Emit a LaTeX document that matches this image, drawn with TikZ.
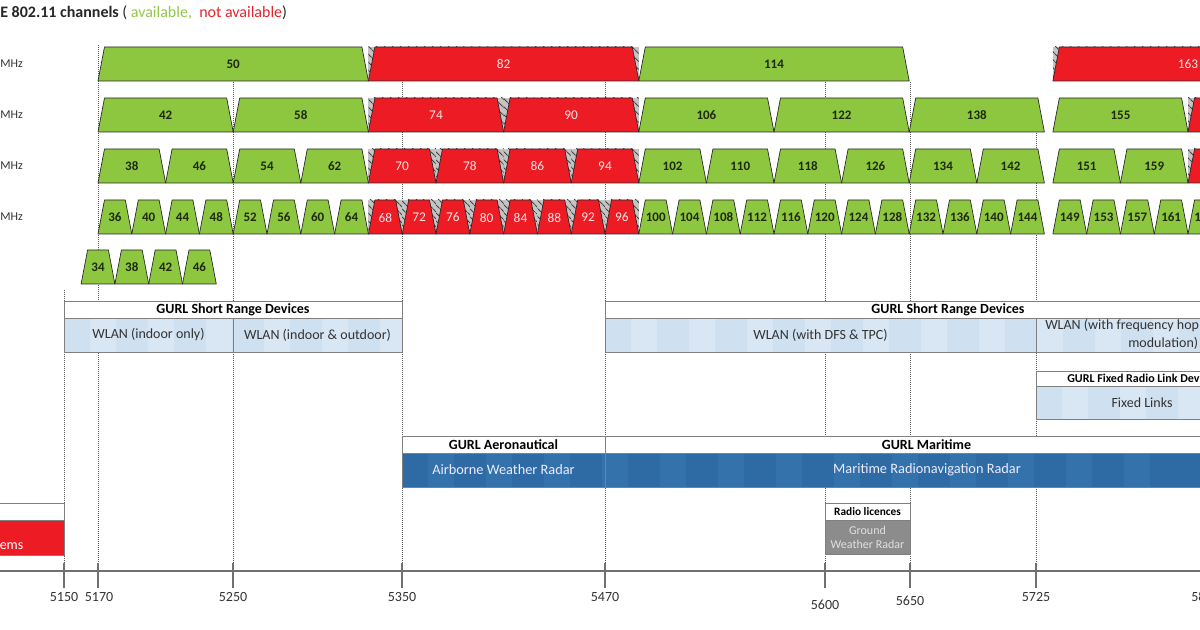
\documentclass[tikz,border=0pt]{standalone}
\usepackage{fontspec}
\setmainfont{Carlito}
\usetikzlibrary{patterns.meta}
\definecolor{chgreen}{HTML}{8DC63F}
\definecolor{chred}{HTML}{ED1C24}
\definecolor{gtext}{HTML}{1F2A10}
\definecolor{rtext}{HTML}{FCE4E4}
\definecolor{hatchbg}{HTML}{C4C4C4}
\definecolor{hatchln}{HTML}{454545}
\definecolor{boxline}{HTML}{808080}
\definecolor{lbA}{HTML}{CFE0F0}
\definecolor{lbB}{HTML}{D9E6F3}
\definecolor{dbA}{HTML}{2E6BA4}
\definecolor{dbB}{HTML}{3472AB}
\definecolor{radgray}{HTML}{8C8C8C}
\definecolor{availg}{HTML}{92C84A}
\definecolor{navr}{HTML}{E0262E}
\definecolor{axcol}{HTML}{707070}
\definecolor{txtdark}{HTML}{333333}

\tikzset{
  greench/.style={fill=chgreen, draw=black!85, line width=0.5pt, line join=round},
  redch/.style={fill=chred, draw=black!85, line width=0.5pt, line join=round},
  hatchbox/.style={fill=hatchbg, postaction={pattern={Lines[angle=-45,distance=4pt,line width=0.9pt]}, pattern color=hatchln}},
  glbl/.style={inner sep=0pt, text=gtext, font=\fontsize{9.75}{11}\selectfont\bfseries},
  rlbl/.style={inner sep=0pt, text=rtext, font=\fontsize{10}{11}\selectfont},
  rowlbl/.style={inner sep=0pt, anchor=west, text=txtdark, font=\fontsize{9}{11}\selectfont},
  guide/.style={densely dotted, draw=black!65, line width=0.5pt},
  boxborder/.style={draw=boxline, line width=0.7pt},
  hdr/.style={inner sep=0pt, text=black, font=\fontsize{10.5}{12}\selectfont\bfseries},
  smallhdr/.style={inner sep=0pt, text=black, font=\fontsize{9}{11}\selectfont\bfseries},
  bodytxt/.style={inner sep=0pt, text=txtdark, font=\fontsize{10.5}{12}\selectfont},
  darktxt/.style={inner sep=0pt, text=white!92!blue, font=\fontsize{10.75}{12}\selectfont},
  axlbl/.style={inner sep=0pt, text=txtdark, font=\fontsize{10.5}{12}\selectfont},
  tick/.style={draw=axcol, line width=0.8pt}
}

% channel geometry: #1 number, #2 width MHz, #3 top y
\newcommand\chgeom[3]{%
  \pgfmathsetmacro\xa{98+(5*#1-170-#2/2)*1.69}%
  \pgfmathsetmacro\xb{98+(5*#1-170+#2/2)*1.69}%
  \pgfmathsetmacro\xm{(\xa+\xb)/2}%
  \pgfmathsetmacro\yb{#3+34}%
  \pgfmathsetmacro\ym{#3+17.5}%
  \pgfmathtruncatemacro\vis{\xm<1195 ? 1 : 0}%
}
% available channel
\newcommand\chanG[3]{%
  \chgeom{#1}{#2}{#3}%
  \draw[greench] (\xa,\yb) -- ({\xa+6.5},#3) -- ({\xb-6.5},#3) -- (\xb,\yb) -- cycle;
  \ifnum\vis=1 \node[glbl] (ch#1-#3) at (\xm,\ym) {#1};\fi
}
% not available channel
\newcommand\chanR[3]{%
  \chgeom{#1}{#2}{#3}%
  \fill[hatchbox] (\xa,#3) rectangle (\xb,\yb);
  \draw[redch] (\xa,\yb) -- ({\xa+6.5},#3) -- ({\xb-6.5},#3) -- (\xb,\yb) -- cycle;
  \ifnum\vis=1 \node[rlbl] (ch#1-#3) at (\xm,\ym) {#1};\fi
}

% striped fill: x1,y1,x2,y2,colA,colB
\newcommand\bands[6]{%
  \begin{scope}
    \clip (#1,#2) rectangle (#3,#4);
    \fill[#5] (#1,#2) rectangle (#3,#4);
    \foreach \s in {0,...,12} \fill[#6] ({#1+26+\s*58},#2) rectangle ({#1+52+\s*58},#4);
  \end{scope}%
}

\begin{document}
\begin{tikzpicture}[x=0.75pt,y=-0.75pt]
\useasboundingbox (0,0) rectangle (1200,630);
\clip (0,0) rectangle (1200,630);
\fill[white] (0,0) rectangle (1200,630);

% title
\node[anchor=base west, inner sep=0pt, text=black!85, font=\fontsize{12}{14}\selectfont] (title) at (0,18)
  {\textbf{E 802.11 channels} ( \textcolor{availg}{available,}\ \ \textcolor{navr}{not available})};

% row labels
\node[rowlbl] (r160) at (0,64) {MHz};
\node[rowlbl] (r80) at (0,115) {MHz};
\node[rowlbl] (r40) at (0,166) {MHz};
\node[rowlbl] (r20) at (0,217) {MHz};

% guide lines
\draw[guide] (64,290) -- (64,571);
\draw[guide] (98,45) -- (98,571);
\foreach \gx in {233,402,605,825,910} \draw[guide] (\gx,82) -- (\gx,571);
\draw[guide] (1036,133) -- (1036,571);

% 160 MHz
\chanG{50}{160}{47}
\chanR{82}{160}{47}
\chanG{114}{160}{47}
\chanR{163}{160}{47}

% 80 MHz
\foreach \c in {42,58,106,122,138,155} {\chanG{\c}{80}{98}}
\foreach \c in {74,90,171} {\chanR{\c}{80}{98}}

% 40 MHz
\foreach \c in {38,46,54,62,102,110,118,126,134,142,151,159} {\chanG{\c}{40}{149}}
\foreach \c in {70,78,86,94,167} {\chanR{\c}{40}{149}}

% 20 MHz
\foreach \c in {36,40,...,64} {\chanG{\c}{20}{200}}
\foreach \c in {68,72,...,96} {\chanR{\c}{20}{200}}
\foreach \c in {100,104,...,144} {\chanG{\c}{20}{200}}
\foreach \c in {149,153,157,161,165} {\chanG{\c}{20}{200}}
\node[glbl, anchor=west] (ch165part) at (1194,217.5) {1};

% older 20 MHz
\foreach \c in {34,38,42,46} {\chanG{\c}{20}{250}}

% GURL SRD left
\fill[white] (64,301) rectangle (402,318);
\bands{64}{318}{402}{352}{lbA}{lbB}
\draw[boxborder] (64,301) rectangle (402,352);
\draw[boxborder] (64,318) -- (402,318);
\draw[boxborder] (233,318) -- (233,352);
\node[hdr] (srdL) at (233,309.5) {GURL Short Range Devices};
\node[bodytxt] (wlanIn) at (148.5,335) {WLAN (indoor only)};
\node[bodytxt] (wlanInOut) at (317.5,335) {WLAN (indoor \& outdoor)};

% GURL SRD right
\fill[white] (605,301) rectangle (1215,318);
\bands{605}{318}{1215}{352}{lbA}{lbB}
\draw[boxborder] (605,301) rectangle (1215,352);
\draw[boxborder] (605,318) -- (1215,318);
\draw[boxborder] (1036,318) -- (1036,352);
\node[hdr] (srdR) at (948,309.5) {GURL Short Range Devices};
\node[bodytxt] (wlanDFS) at (820.5,335) {WLAN (with DFS \& TPC)};
\node[bodytxt, anchor=west] (wlanFH1) at (1045,326) {WLAN (with frequency hop};
\node[bodytxt, anchor=west] (wlanFH2) at (1128,343) {modulation)};

% GURL Fixed Radio Link
\fill[white] (1036,371) rectangle (1215,386);
\bands{1036}{386}{1215}{419}{lbA}{lbB}
\draw[boxborder] (1036,371) rectangle (1215,419);
\draw[boxborder] (1036,386) -- (1215,386);
\node[smallhdr, anchor=west] (frl) at (1067,378.5) {GURL Fixed Radio Link Dev};
\node[bodytxt] (fixed) at (1142,403) {Fixed Links};

% GURL Aeronautical / Maritime
\fill[white] (402,436) rectangle (1215,453);
\bands{402}{453}{1215}{487}{dbA}{dbB}
\draw[boxborder] (402,436) rectangle (1215,487);
\draw[boxborder] (402,453) -- (1215,453);
\draw[boxborder] (605,436) -- (605,487);
\node[hdr] (aero) at (503.5,444.5) {GURL Aeronautical};
\node[hdr] (mari) at (926.5,444.5) {GURL Maritime};
\node[darktxt] (awr) at (503.5,470) {Airborne Weather Radar};
\node[darktxt] (mrr) at (927,470) {Maritime Radionavigation Radar};

% bottom-left red box
\fill[white] (-5,503) rectangle (64,520);
\fill[chred] (-5,520) rectangle (64,555);
\draw[boxborder] (-5,503) rectangle (64,555);
\draw[boxborder] (-5,520) -- (64,520);
\node[inner sep=0pt, anchor=west, text=white, font=\fontsize{10.5}{12}\selectfont] (ems) at (-0.5,546) {ems};

% Radio licences
\fill[white] (825,503) rectangle (910,520);
\fill[radgray] (825,520) rectangle (910,554);
\draw[boxborder] (825,503) rectangle (910,554);
\draw[boxborder] (825,520) -- (910,520);
\node[inner sep=0pt, text=black, font=\fontsize{8.5}{10}\selectfont\bfseries] (radlic) at (867.5,512) {Radio licences};
\node[inner sep=0pt, align=center, text=white!88!black, font=\fontsize{9}{10.9}\selectfont] (gwr) at (867.5,537.5) {Ground\\Weather Radar};

% axis
\draw[draw=axcol, line width=0.8pt] (0,571) -- (1200,571);
\foreach \tx in {64,98,233,402,605,825,910,1036} \draw[tick] (\tx,563) -- (\tx,588);
\node[axlbl] (f5150) at (64,597) {5150};
\node[axlbl] (f5170) at (99,597) {5170};
\node[axlbl] (f5250) at (233,597) {5250};
\node[axlbl] (f5350) at (402,597) {5350};
\node[axlbl] (f5470) at (605,597) {5470};
\node[axlbl] (f5600) at (825,605) {5600};
\node[axlbl] (f5650) at (910,601) {5650};
\node[axlbl] (f5725) at (1036,597) {5725};
\node[axlbl, anchor=west] (f58) at (1191,597) {58};
\end{tikzpicture}
\end{document}
